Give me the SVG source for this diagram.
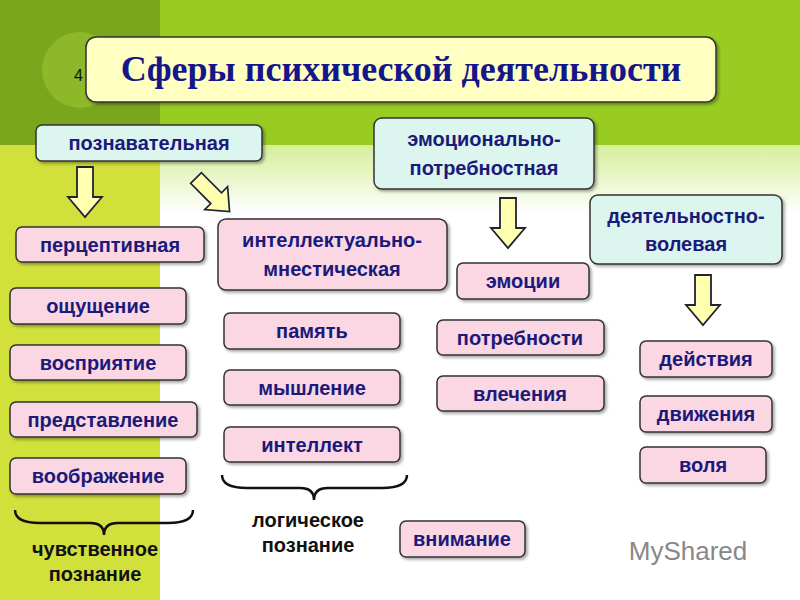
<svg xmlns="http://www.w3.org/2000/svg" width="800" height="600" viewBox="0 0 800 600">
<defs>
<linearGradient id="bg" x1="0" y1="0" x2="0" y2="1"><stop offset="0" stop-color="#d6ee9a"/><stop offset="0.15" stop-color="#ffffff"/><stop offset="1" stop-color="#ffffff"/></linearGradient>
<filter id="sh" x="-10%" y="-10%" width="130%" height="140%"><feDropShadow dx="2" dy="2" stdDeviation="1.5" flood-color="#000" flood-opacity="0.35"/></filter>
<path id="dn" d="M-8,0 H8 V30 H17 L0,50 L-17,30 H-8 Z"/>
</defs>
<style>
.p{fill:#fbd6e3;stroke:#333;stroke-width:1.5;filter:url(#sh)}
.c{fill:#dcf5ee;stroke:#333;stroke-width:1.5;filter:url(#sh)}
.t{font-family:"Liberation Sans",Arial,sans-serif;font-weight:bold;font-size:20px;fill:#1a1a7a;text-anchor:middle}
.k{font-family:"Liberation Sans",Arial,sans-serif;font-weight:bold;font-size:20px;fill:#111;text-anchor:middle}
.a{fill:#ffffb0;stroke:#223;stroke-width:1.8}
.b{fill:none;stroke:#111;stroke-width:2.5}
</style>
<rect width="800" height="600" fill="#fff"/>
<rect x="160" y="145" width="640" height="455" fill="url(#bg)"/>
<rect x="0" y="0" width="160" height="145" fill="#7aa61e"/>
<rect x="160" y="0" width="640" height="145" fill="#98cc22"/>
<rect x="0" y="145" width="160" height="455" fill="#d2e03c"/>
<circle cx="80" cy="70" r="38" fill="#8cb82a"/>
<text x="74" y="81" font-family="Liberation Sans,sans-serif" font-size="16" fill="#111">4</text>
<text x="688" y="560" font-family="Liberation Sans,sans-serif" font-size="26" fill="#888" text-anchor="middle">MyShared</text>
<g id="title"><rect x="86" y="37" width="630" height="65" rx="10" fill="#ffffc2" stroke="#333" stroke-width="1.5" filter="url(#sh)"/>
<text x="401" y="81" font-family="Liberation Serif,serif" font-weight="bold" font-size="36" fill="#15158c" text-anchor="middle">Сферы психической деятельности</text></g>
<g id="connectors">
<use href="#dn" x="85" y="167" class="a"/>
<use href="#dn" x="508" y="198" class="a"/>
<use href="#dn" x="703" y="275" class="a"/>
<use href="#dn" transform="translate(196,178) rotate(-45) scale(0.95)" class="a"/>
<path class="b" d="M15,510 Q15,523 40,523 H90 Q104,523 104,535 Q104,523 118,523 H168 Q193,523 193,510"/>
<path class="b" d="M222,475 Q222,488 247,488 H300 Q314,488 314,500 Q314,488 328,488 H382 Q407,488 407,475"/>
</g>
<g id="n1"><rect class="c" x="36" y="125" width="226" height="36" rx="6"/><text class="t" x="149" y="150">познавательная</text></g>
<g id="n2"><rect class="c" x="374" y="118" width="220" height="71" rx="8"/><text class="t" x="484" y="146">эмоционально-</text><text class="t" x="484" y="175">потребностная</text></g>
<g id="n3"><rect class="c" x="590" y="195" width="192" height="69" rx="8"/><text class="t" x="686" y="223">деятельностно-</text><text class="t" x="686" y="251">волевая</text></g>
<g id="n4"><rect class="p" x="16" y="227" width="188" height="35" rx="6"/><text class="t" x="110" y="252">перцептивная</text></g>
<g id="n5"><rect class="p" x="218" y="219" width="229" height="71" rx="8"/><text class="t" x="332" y="247">интеллектуально-</text><text class="t" x="332" y="276">мнестическая</text></g>
<g id="n6"><rect class="p" x="10" y="288" width="176" height="36" rx="6"/><text class="t" x="98" y="313">ощущение</text></g>
<g id="n7"><rect class="p" x="10" y="345" width="176" height="35" rx="6"/><text class="t" x="98" y="370">восприятие</text></g>
<g id="n8"><rect class="p" x="10" y="402" width="187" height="35" rx="6"/><text class="t" x="103" y="427">представление</text></g>
<g id="n9"><rect class="p" x="10" y="458" width="176" height="36" rx="6"/><text class="t" x="98" y="483">воображение</text></g>
<g id="n10"><rect class="p" x="224" y="313" width="176" height="36" rx="6"/><text class="t" x="312" y="338">память</text></g>
<g id="n11"><rect class="p" x="224" y="370" width="176" height="35" rx="6"/><text class="t" x="312" y="395">мышление</text></g>
<g id="n12"><rect class="p" x="224" y="427" width="176" height="35" rx="6"/><text class="t" x="312" y="452">интеллект</text></g>
<g id="n13"><rect class="p" x="457" y="263" width="132" height="36" rx="6"/><text class="t" x="523" y="288">эмоции</text></g>
<g id="n14"><rect class="p" x="437" y="320" width="167" height="35" rx="6"/><text class="t" x="520" y="345">потребности</text></g>
<g id="n15"><rect class="p" x="437" y="376" width="167" height="35" rx="6"/><text class="t" x="520" y="401">влечения</text></g>
<g id="n16"><rect class="p" x="640" y="341" width="132" height="36" rx="6"/><text class="t" x="706" y="366">действия</text></g>
<g id="n17"><rect class="p" x="640" y="396" width="132" height="36" rx="6"/><text class="t" x="706" y="421">движения</text></g>
<g id="n18"><rect class="p" x="640" y="447" width="126" height="36" rx="6"/><text class="t" x="703" y="472">воля</text></g>
<g id="n19"><rect class="p" x="400" y="521" width="125" height="36" rx="6"/><text class="t" x="462" y="546">внимание</text></g>
<g id="l1"><text class="k" x="95" y="556">чувственное</text><text class="k" x="95" y="581">познание</text></g>
<g id="l2"><text class="k" x="308" y="527">логическое</text><text class="k" x="308" y="552">познание</text></g>
</svg>
